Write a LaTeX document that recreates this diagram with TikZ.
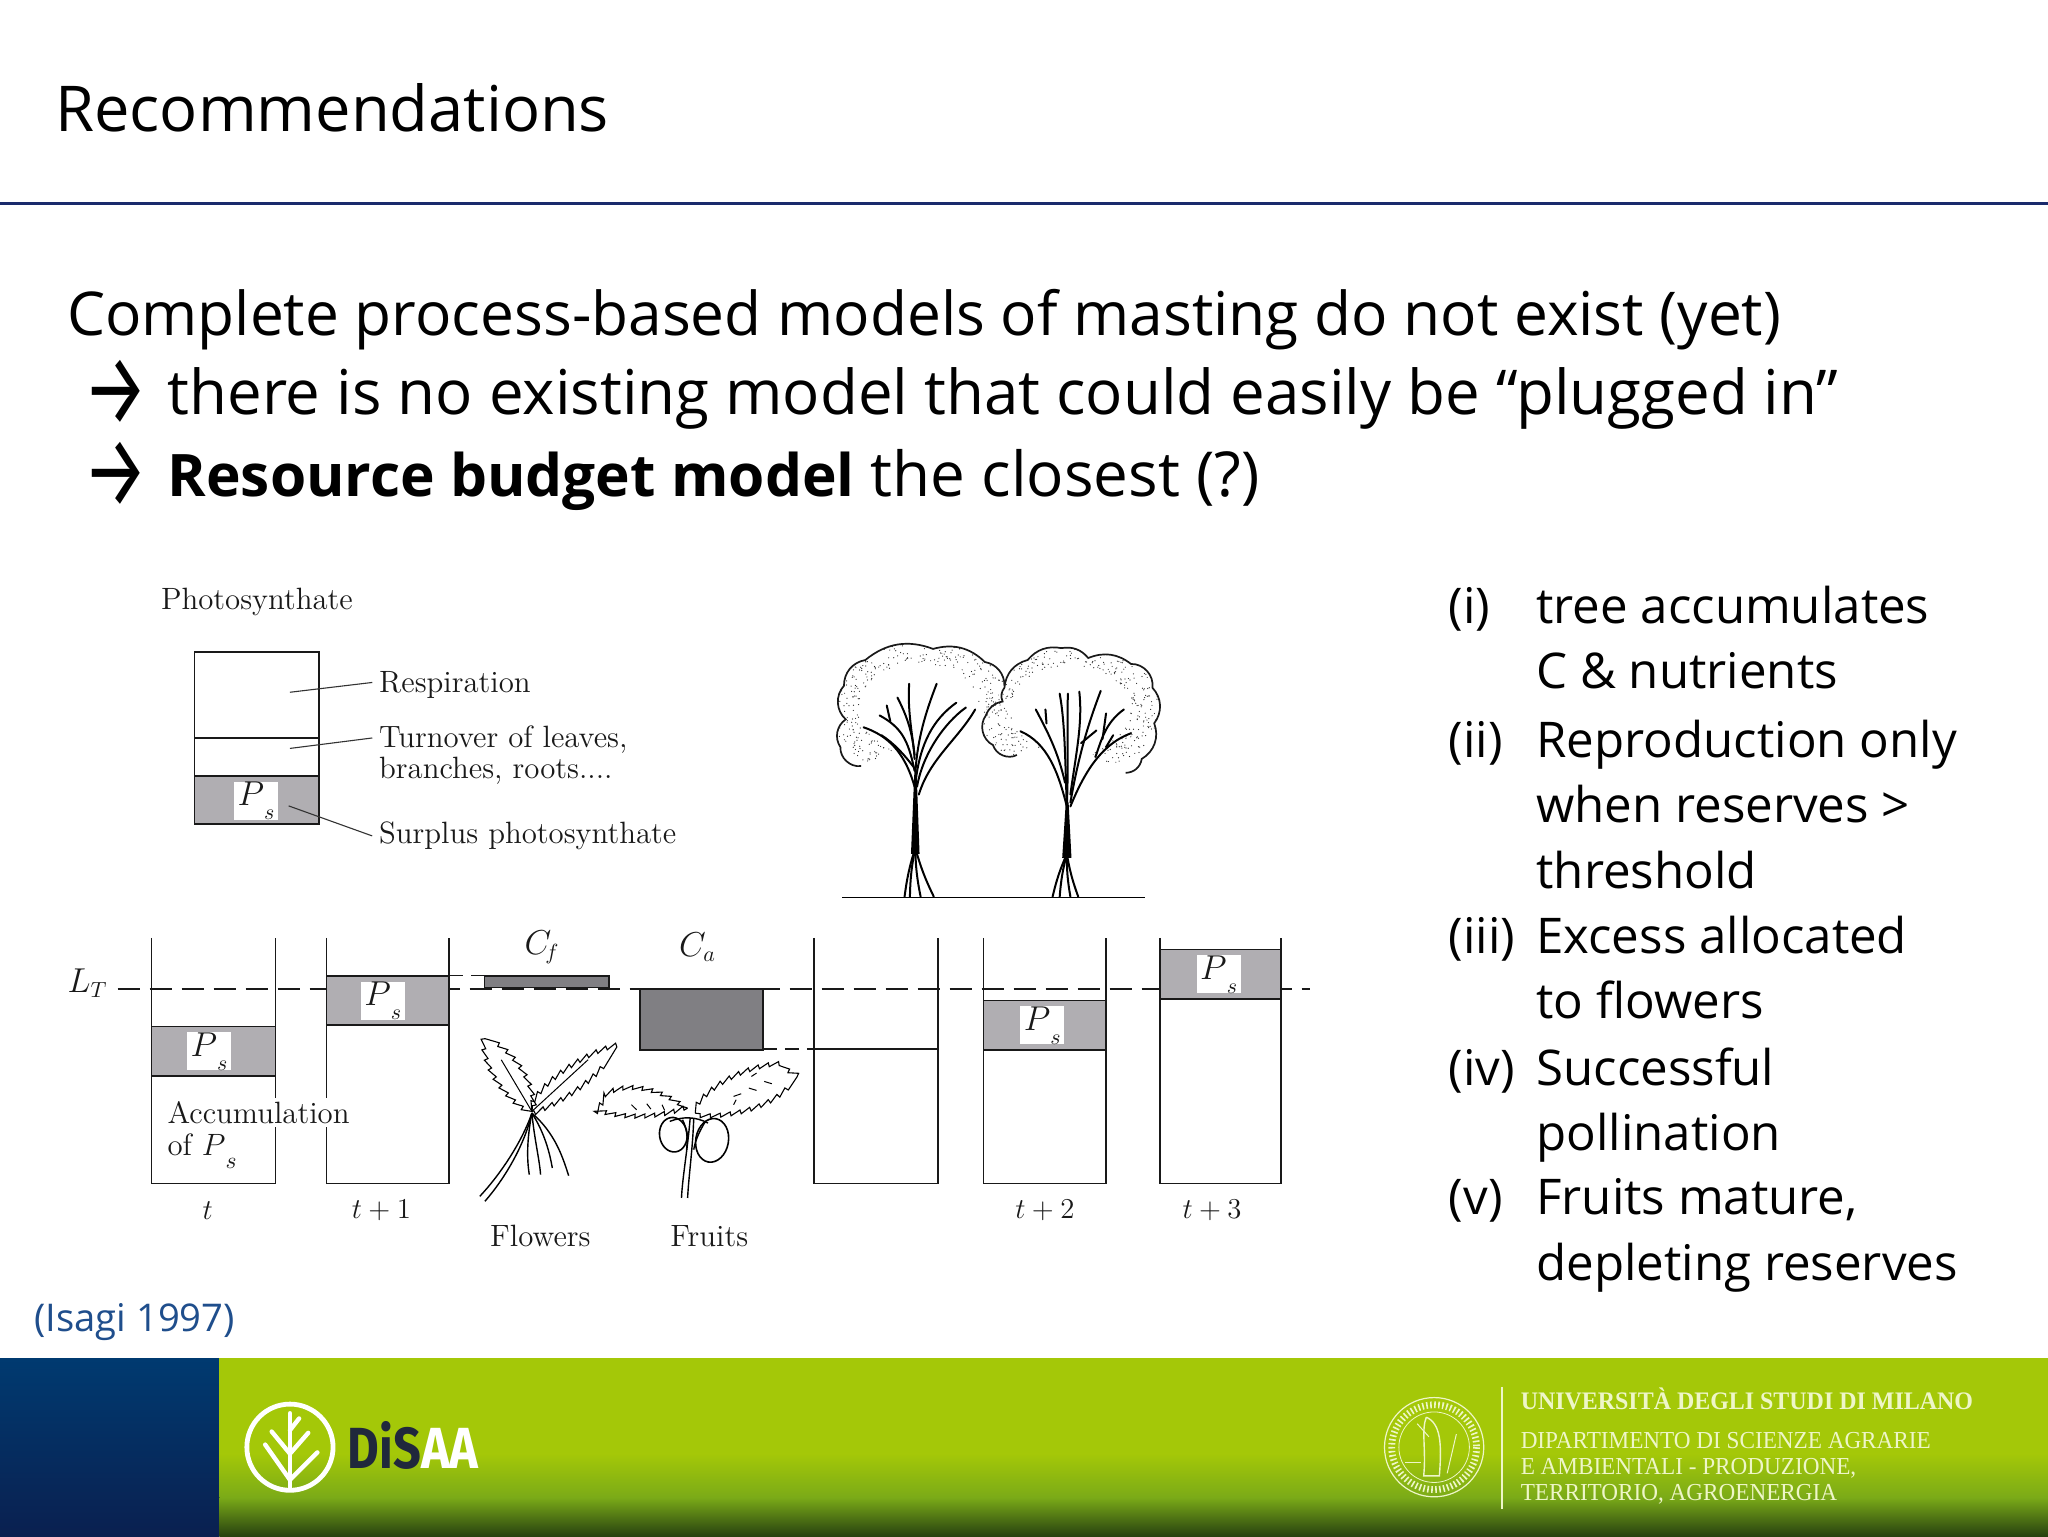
\documentclass[tikz,border=0pt]{standalone}
\usepackage{fontspec}
\setsansfont{Open Sans}
\newfontfamily\arrowf{Fira Sans}
\newfontfamily\serf[FakeStretch=0.95]{Liberation Serif}
\newfontfamily\logof[FakeStretch=0.84]{Fira Sans}
\usetikzlibrary{decorations.pathmorphing}
\definecolor{ngray}{HTML}{B0AEB2}
\definecolor{dgray}{HTML}{807F83}
\definecolor{navy}{HTML}{1A2A6C}
\definecolor{cite}{HTML}{1F4E8C}
\definecolor{pale}{HTML}{EEF6C8}
\definecolor{logod}{HTML}{20283C}
\definecolor{blueA}{RGB}{0,58,112}
\definecolor{blueB}{RGB}{10,32,80}
\definecolor{grnA}{RGB}{164,200,8}
\definecolor{grnB}{RGB}{122,170,24}
\definecolor{grnC}{RGB}{40,66,16}
\newcommand{\fsz}[1]{\fontsize{#1}{#1}\selectfont}
\newcommand{\PSym}{$P\raisebox{-0.42em}{\fsz{10.5}$s$}$}
\newcommand{\dt}[1]{\scalebox{1.07}{#1}}
\newcommand{\stockbar}[5]{% x1 x2 graytop graybot Pcentre-x
  \fill[ngray] (#1,#3) rectangle (#2,#4);
  \draw[wall] (#1,718) -- (#1,906) -- (#2,906) -- (#2,718);
  \draw[wall] (#1,#3) -- (#2,#3);
  \draw[wall] (#1,#4) -- (#2,#4);
  \node[pslabel] at (#5,{(#3+#4)/2}) {\PSym};
}
\tikzset{
  wall/.style={line width=0.85pt,black!90},
  slide/.style={anchor=base west,inner sep=0pt,font=\sffamily\fsz{30.2}},
  lst/.style={anchor=base west,inner sep=0pt,font=\sffamily\fsz{24.6}},
  diag/.style={anchor=base west,inner sep=0pt,font=\rmfamily\fsz{14.4},text=black!90},
  mth/.style={inner sep=0pt,font=\fsz{14.6},text=black!90},
  mthb/.style={inner sep=0pt,font=\fsz{16},text=black!90},
  pslabel/.style={fill=white,inner sep=0pt,minimum width=22pt,minimum height=19pt,font=\fsz{16.5},text=black!90},
  lead/.style={line width=0.55pt,black!80},
  uni/.style={anchor=base west,inner sep=0pt,text=pale,font=\serf\fsz{12.2}},
  twig/.style={line width=1pt,black,line cap=round},
  crown/.style={line width=0.85pt,black!90},
  leaf/.style={line width=0.55pt,black,decorate,decoration={saw,segment length=5pt,amplitude=2pt}},
  arrowglyph/.style={anchor=base west,inner sep=0pt,font=\arrowf\fsz{36}}
}
\begin{document}
\begin{tikzpicture}[x=0.653061pt,y=-0.653061pt]
\useasboundingbox (0,0) rectangle (1568,1176);
\fill[white] (0,0) rectangle (1568,1176);

% header
\node[slide,font=\sffamily\fsz{31.6}] (title) at (42,101) {Recommendations};
\draw[navy,line width=1.4pt] (0,156) -- (1568,156);

% body
\node[slide] (l1) at (51,256.5) {Complete process-based models of masting do not exist (yet)};
\node[arrowglyph] (a2) at (64,325) {\smash{\scalebox{1}[1.4]{→}}};
\node[slide,font=\sffamily\fsz{30.9}] (l2) at (128,317) {there is no existing model that could easily be “plugged in”};
\node[arrowglyph] (a3) at (64,387.5) {\smash{\scalebox{1}[1.4]{→}}};
\node[slide,font=\sffamily\fsz{31}] (l3) at (128,380) {{\fsz{29.3}\textbf{Resource budget model}} the closest (?)};

% upper diagram
\node[diag] (photo) at (123,467) {\dt{Photosynthate}};
\fill[ngray] (149,594) rectangle (244,631);
\draw[wall] (149,499) rectangle (244,631);
\draw[wall] (149,565) -- (244,565);
\draw[wall] (149,594) -- (244,594);
\node[pslabel] (psa) at (196,613) {\PSym};
\node[diag] (resp) at (290,530) {\dt{Respiration}};
\node[diag] (turn) at (290,572) {\dt{Turnover of leaves,}};
\node[diag] (turnb) at (290,596) {\dt{branches, roots....}};
\node[diag] (surp) at (290,646) {\dt{Surplus photosynthate}};
\coordinate (c1) at (222,530);
\coordinate (c2) at (222,573);
\coordinate (c3) at (221,617);
\draw[lead] (c1) -- (285,522.5);
\draw[lead] (c2) -- (285,565);
\draw[lead] (c3) -- (285,640);

% threshold
\draw[line width=0.75pt,black!90,dash pattern=on 11pt off 5pt] (90,757) -- (1003,757);

% bars
\stockbar{116}{211}{786}{824}{160}
\stockbar{250}{344}{747}{785}{293}
\stockbar{753}{847}{766}{804}{798}
\stockbar{888}{981}{727}{765}{933}
\draw[wall] (623,718) -- (623,906) -- (718,906) -- (718,718);
\draw[wall] (623,803) -- (718,803);

% carbon blocks
\draw[wall,fill=dgray] (371,747) rectangle (466,756);
\draw[wall,fill=dgray] (490,757) rectangle (584,804);
\draw[line width=0.75pt,black!90,dash pattern=on 7pt off 4pt] (344,747) -- (371,747);
\draw[line width=0.75pt,black!90,dash pattern=on 7pt off 4pt] (584,803) -- (623,803);

% labels
\node[diag,fill=white,inner ysep=1.5pt] (acc) at (128,860) {\dt{Accumulation}};
\node[diag] (ofp) at (128,885) {\dt{of \PSym}};
\node[mthb] (lt) at (67,753) {$L_T$};
\node[mthb] (cf) at (415,725) {$C_{\!f}$};
\node[mthb] (ca) at (534,725) {$C_a$};
\node[mth] (t0) at (159,927) {$t$};
\node[mth] (t1) at (292,927) {$t+1$};
\node[mth] (t2) at (800,927) {$t+2$};
\node[mth] (t3) at (928,927) {$t+3$};
\node[diag] (fl) at (375,954) {\dt{Flowers}};
\node[diag] (fr) at (513,954) {\dt{Fruits}};

% trees (coordinates read from a crop)
\begin{scope}[shift={(597,475)},x=0.1783pt,y=-0.1979pt]
  % stipple
  \pgfmathsetseed{4217}
  \begin{scope}
    \clip (228,368) to[bend left=50] (170,320) to[bend left=45] (185,250) to[bend left=45] (180,165) to[bend left=40] (240,100) to[bend left=30] (430,72) to[bend left=30] (575,105) to[bend left=40] (630,165) -- (578,240) -- (400,300) -- cycle;
    \foreach \i in {1,...,450} {
      \pgfmathsetmacro{\ang}{rnd*360}
      \pgfmathsetmacro{\rr}{0.68+0.36*rnd}
      \fill[black!85] ({390+245*\rr*cos(\ang)},{220-165*\rr*sin(\ang)}) circle (0.3pt);
    }
  \end{scope}
  \begin{scope}
    \clip (665,340) to[bend left=50] (598,315) to[bend left=50] (578,240) to[bend left=30] (630,170) to[bend left=40] (695,100) to[bend left=30] (790,70) to[bend left=30] (865,95) to[bend left=30] (985,110) to[bend left=50] (1045,170) to[bend left=40] (1050,260) to[bend left=40] (1015,350) to[bend left=40] (970,385) -- (800,300) -- cycle;
    \foreach \i in {1,...,450} {
      \pgfmathsetmacro{\ang}{rnd*360}
      \pgfmathsetmacro{\rr}{0.7+0.36*rnd}
      \fill[black!85] ({815+240*\rr*cos(\ang)},{225-160*\rr*sin(\ang)}) circle (0.3pt);
    }
  \end{scope}
  % crowns
  \draw[crown] (228,368) to[bend left=50] (170,320) to[bend left=45] (185,250) to[bend left=45] (180,165) to[bend left=40] (240,100) to[bend left=30] (430,72) to[bend left=30] (575,105) to[bend left=40] (630,165);
  \draw[crown] (665,340) to[bend left=50] (598,315) to[bend left=50] (578,240) to[bend left=30] (625,205) to[bend left=30] (630,170) to[bend left=35] (695,100) to[bend left=30] (790,70) to[bend left=30] (865,95) to[bend left=30] (985,110) to[bend left=50] (1045,170) to[bend left=40] (1050,260) to[bend left=40] (1015,350) to[bend left=40] (970,385);
  % tree 1
  \fill (377,390) -- (384,390) -- (392,590) -- (368,590) -- cycle;
  \foreach \rx in {350,365,395,432} \draw[twig] (380,575) to[bend right=5] (\rx,698);
  \draw[twig] (378,420) .. controls (350,330) and (300,290) .. (235,270);
  \draw[twig] (375,370) .. controls (350,340) and (320,310) .. (285,290);
  \draw[twig] (378,380) .. controls (360,300) and (340,270) .. (280,240);
  \draw[twig] (300,215) -- (310,255);
  \draw[twig] (378,350) .. controls (375,280) and (350,230) .. (330,195);
  \draw[twig] (363,160) .. controls (358,220) and (370,280) .. (378,340);
  \draw[twig] (440,160) .. controls (410,230) and (385,300) .. (380,390);
  \draw[twig] (495,208) .. controls (430,250) and (395,310) .. (382,400);
  \draw[twig] (522,220) .. controls (460,260) and (400,340) .. (385,420);
  \draw[twig] (548,225) .. controls (500,300) and (420,350) .. (390,440);
  % tree 2
  \fill (802,460) -- (810,460) -- (818,600) -- (792,600) -- cycle;
  \foreach \rx in {765,785,815,837} \draw[twig] (805,590) to[bend right=5] (\rx,698);
  \draw[twig] (805,470) .. controls (780,380) and (750,310) .. (675,280);
  \draw[twig] (800,410) .. controls (780,330) and (750,280) .. (718,225);
  \draw[twig] (745,225) -- (748,260);
  \draw[twig] (785,185) .. controls (800,260) and (800,350) .. (805,470);
  \draw[twig] (808,185) .. controls (805,280) and (810,360) .. (805,470);
  \draw[twig] (840,180) .. controls (850,260) and (830,340) .. (815,440);
  \draw[twig] (900,178) .. controls (870,250) and (840,330) .. (815,460);
  \draw[twig] (888,278) -- (845,310);
  \draw[twig] (965,225) .. controls (910,260) and (900,310) .. (885,345);
  \draw[twig] (915,235) -- (905,300);
  \draw[twig] (985,285) .. controls (910,310) and (860,370) .. (815,470);
  \draw[twig] (935,290) -- (915,320);
  % ground
  \draw[line width=0.95pt] (175,700) -- (1025,700);
\end{scope}

% flowers and fruits (coordinates read from a crop)
\begin{scope}[shift={(37.8,689)},x=0.2553pt,y=-0.1665pt]
  % flowers
  \draw[leaf] (945,635) .. controls (885,580) and (855,490) .. (855,425) .. controls (900,450) and (945,540) .. (945,635);
  \draw[leaf] (945,635) .. controls (960,560) and (1035,480) .. (1095,450) .. controls (1085,510) and (1020,590) .. (945,635);
  \draw[line width=0.5pt] (945,635) -- (885,480);
  \draw[line width=0.5pt] (945,635) -- (1055,480);
  \draw[line width=0.7pt] (945,640) .. controls (925,730) and (880,830) .. (843,890);
  \draw[line width=0.7pt] (945,640) .. controls (930,740) and (890,840) .. (853,905);
  \draw[line width=0.7pt] (945,640) .. controls (935,720) and (935,780) .. (940,825);
  \draw[line width=0.7pt] (945,640) .. controls (950,720) and (960,780) .. (962,825);
  \draw[line width=0.7pt] (945,640) .. controls (970,700) and (980,760) .. (985,805);
  \draw[line width=0.7pt] (945,640) .. controls (990,700) and (1005,770) .. (1017,828);
  % fruits
  \draw[leaf] (1250,625) .. controls (1200,560) and (1130,540) .. (1090,580) -- (1068,632) .. controls (1120,665) and (1200,660) .. (1250,625);
  \draw[leaf] (1265,640) .. controls (1290,565) and (1360,510) .. (1420,500) -- (1455,525) .. controls (1435,600) and (1350,650) .. (1265,640);
  \foreach \ax/\ay/\bx/\by in {1140/615/1150/630,1170/612/1178/628,1200/615/1205/632,1340/590/1355/582,1370/565/1385/572,1400/545/1415/552,1375/530/1385/520,1345/600/1340/615}
    \draw[line width=0.5pt] (\ax,\ay) -- (\bx,\by);
  \draw[line width=0.8pt,rotate around={8:(1222,705)}] (1222,705) ellipse [x radius=27,y radius=52];
  \draw[line width=0.8pt,rotate around={-10:(1298,722)}] (1298,722) ellipse [x radius=32,y radius=66];
  \draw[line width=0.7pt] (1215,665) .. controls (1240,650) and (1265,650) .. (1290,670);
  \draw[line width=0.7pt] (1240,660) .. controls (1250,690) and (1250,720) .. (1248,750);
  \draw[line width=0.7pt] (1285,665) .. controls (1275,690) and (1265,720) .. (1262,750);
  \draw[line width=0.7pt] (1255,655) .. controls (1250,750) and (1240,830) .. (1238,895);
  \draw[line width=0.7pt] (1262,655) .. controls (1260,750) and (1252,830) .. (1250,895);
\end{scope}

% list
\node[lst] at (1109,477) {(i)};   \node[lst] at (1176,477) {tree accumulates};
\node[lst] at (1176,527) {C \& nutrients};
\node[lst] at (1109,580) {(ii)};  \node[lst] at (1176,580) {Reproduction only};
\node[lst] at (1176,630) {when reserves >};
\node[lst] at (1176,680) {threshold};
\node[lst] at (1109,730) {(iii)}; \node[lst] at (1176,730) {Excess allocated};
\node[lst] at (1176,780) {to flowers};
\node[lst] at (1109,831) {(iv)};  \node[lst] at (1176,831) {Successful};
\node[lst] at (1176,881) {pollination};
\node[lst] at (1109,930) {(v)};   \node[lst] at (1176,930) {Fruits mature,};
\node[lst] at (1176,980) {depleting reserves};

\node[slide,font=\sffamily\fsz{19.1},text=cite] (isagi) at (26,1019.5) {(Isagi 1997)};

% footer
\fill[top color=blueA,bottom color=blueB] (0,1040) rectangle (168,1176);
\fill[grnA] (168,1040) rectangle (1568,1113.5);
\fill[top color=grnA,bottom color=grnB] (168,1113) rectangle (1568,1147);
\fill[top color=grnB,bottom color=grnC] (168,1146.5) rectangle (1568,1176);

% DiSAA logo
\draw[white,line width=2.4pt] (222,1108) circle (33);
\draw[white,line width=2.2pt,line cap=round] (222,1139) -- (222,1082);
\draw[white,line width=2.2pt,line cap=round] (222,1133) -- (203,1106);
\draw[white,line width=2.2pt,line cap=round] (222,1133) -- (243,1112);
\draw[white,line width=2.2pt,line cap=round] (222,1113) -- (208,1096);
\draw[white,line width=2.2pt,line cap=round] (222,1113) -- (236,1097);
\draw[white,line width=2.2pt,line cap=round] (222,1095) -- (229,1086);
\node[anchor=base west,inner sep=0pt,font=\logof\bfseries\fsz{29}] (disaa) at (266,1124) {\textcolor{logod}{DiS}\textcolor{white}{AA}};

% university seal
\draw[pale,line width=0.6pt] (1098,1108) circle (38);
\draw[pale,line width=0.4pt] (1098,1108) circle (27);
\draw[pale,line width=3.4pt,dash pattern=on 0.8pt off 1.2pt] (1098,1108) circle (32.5);
\draw[pale,line width=0.7pt] (1092,1085) .. controls (1103,1090) and (1104,1105) .. (1102,1130) -- (1090,1130) .. controls (1092,1110) and (1088,1095) .. (1092,1085);
\draw[pale,line width=0.5pt] (1085,1090) -- (1094,1100);
\draw[pale,line width=0.5pt] (1108,1128) -- (1115,1098);
\draw[pale,line width=0.5pt] (1076,1120) -- (1088,1120);

\draw[pale,line width=0.6pt] (1150,1062) -- (1150,1155);
\node[uni,font=\serf\bfseries\fsz{12.6}] (u1) at (1164,1079) {UNIVERSITÀ DEGLI STUDI DI MILANO};
\node[uni] (u2) at (1164,1109) {DIPARTIMENTO DI SCIENZE AGRARIE};
\node[uni] (u3) at (1164,1129) {E AMBIENTALI - PRODUZIONE,};
\node[uni] (u4) at (1164,1149) {TERRITORIO, AGROENERGIA};
\end{tikzpicture}
\end{document}
